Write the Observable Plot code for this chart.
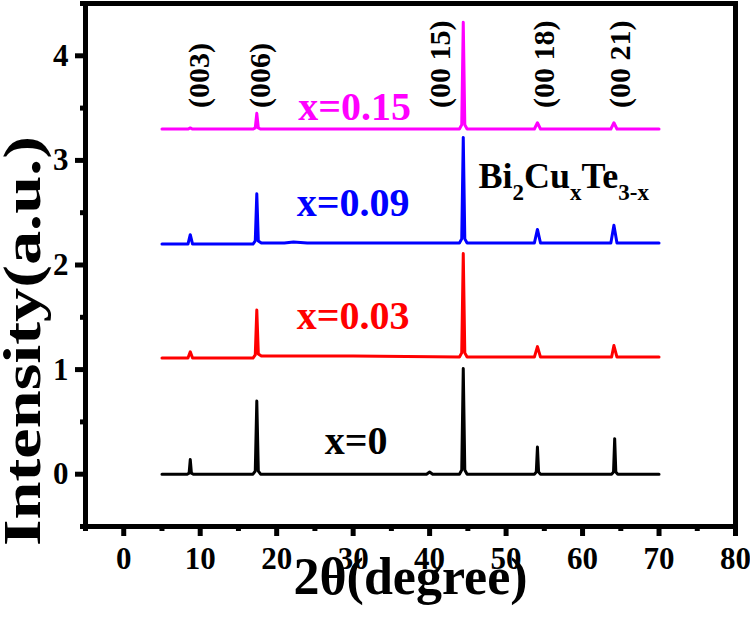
<!DOCTYPE html>
<html>
<head>
<meta charset="utf-8">
<script src="https://cdn.jsdelivr.net/npm/d3@7"></script>
<script src="https://cdn.jsdelivr.net/npm/@observablehq/plot@0.6"></script>
<style>
  html, body { margin: 0; padding: 0; background: #fff; }
</style>
</head>
<body>
<div id="chart"></div>
<script>
// ---- data (2θ in degrees, intensity in a.u., offset stacked) ----
const xEq0 = [
  [5,0],[8.3,0],[8.55,0.01],[8.7,0.14],[8.85,0.01],[9.1,0],
  [16.9,0],[17.2,0.03],[17.4,0.70],[17.6,0.03],[17.9,0],
  [39.6,0],[40.0,0.02],[40.4,0],
  [43.9,0],[44.2,0.04],[44.4,1.01],[44.6,0.04],[44.9,0],
  [53.7,0],[53.95,0.02],[54.1,0.26],[54.25,0.02],[54.5,0],
  [63.8,0],[64.05,0.02],[64.2,0.34],[64.35,0.02],[64.6,0],[70,0]
];
const xEq003 = [
  [5,1.11],[8.4,1.11],[8.7,1.17],[9.0,1.11],
  [16.9,1.11],[17.2,1.14],[17.4,1.57],[17.6,1.15],[18.0,1.13],[30,1.13],[43.9,1.12],
  [44.2,1.16],[44.4,2.11],[44.6,1.16],[44.9,1.12],
  [53.7,1.12],[54.1,1.22],[54.5,1.12],
  [63.8,1.12],[64.1,1.23],[64.5,1.12],[70,1.12]
];
const xEq009 = [
  [5,2.20],[8.4,2.20],[8.7,2.29],[9.0,2.20],
  [16.9,2.20],[17.2,2.23],[17.4,2.68],[17.6,2.23],[18.0,2.21],
  [21.0,2.21],[22.2,2.22],[24.0,2.21],[43.9,2.21],
  [44.2,2.25],[44.4,3.22],[44.6,2.25],[44.9,2.21],
  [53.7,2.21],[54.1,2.34],[54.5,2.21],
  [63.7,2.21],[64.1,2.38],[64.5,2.21],[70,2.21]
];
const xEq015 = [
  [5,3.30],[8.4,3.30],[8.7,3.31],[9.0,3.30],
  [16.9,3.30],[17.2,3.31],[17.4,3.45],[17.6,3.31],[17.9,3.30],
  [43.9,3.30],[44.2,3.34],[44.4,4.32],[44.6,3.34],[44.9,3.30],
  [53.7,3.30],[54.1,3.36],[54.5,3.30],
  [63.7,3.30],[64.1,3.36],[64.5,3.30],[70,3.30]
];
const seriesColors = ["#000000", "#ff0000", "#0000ff", "#ff00ff"];

const sampleLabels = ["x=0", "x=0.03", "x=0.09", "x=0.15"];
const sampleLabelX = [30.4, 30.0, 30.0, 30.2];
const sampleLabelY = [0.32, 1.51, 2.59, 3.51];

const hklLabels = ["(003)", "(006)", "(00 15)", "(00 18)", "(00 21)"];
const hklX = [9.9, 17.9, 41.4, 55.0, 64.9];
const hklY = 3.5;

const formulaText = "Bi2CuxTe3-x";
const formulaX = 46.4;
const formulaY = 2.85;

const xTicks = [0, 10, 20, 30, 40, 50, 60, 70, 80];
const xMinor = [-5, 5, 15, 25, 35, 45, 55, 65, 75];
const yTicks = [0, 1, 2, 3, 4];
const yMinor = [-0.5, 0.5, 1.5, 2.5, 3.5, 4.5];

const allSeries = [xEq0, xEq003, xEq009, xEq015];

const font = "'Liberation Serif', 'Times New Roman', serif";

const plot = Plot.plot({
  width: 750,
  height: 626,
  marginLeft: 85,
  marginRight: 15,
  marginTop: 3,
  marginBottom: 100,
  x: { domain: [-5, 80] },
  y: { domain: [-0.5, 4.5] },
  style: { fontFamily: font, fontWeight: "bold", background: "#fff", color: "#000" },
  marks: [
    ...allSeries.map((s, i) => Plot.line(s, {
      x: d => d[0], y: d => d[1], stroke: seriesColors[i], strokeWidth: 3, strokeLinejoin: "round"
    })),
    Plot.text(sampleLabels, {
      x: (d, i) => sampleLabelX[i], y: (d, i) => sampleLabelY[i], text: d => d,
      fill: (d, i) => seriesColors[i], fontSize: 40, fontWeight: "bold"
    }),
    Plot.text(hklLabels, {
      x: (d, i) => hklX[i], y: hklY, text: d => d, rotate: -90, textAnchor: "start",
      fill: "#000", fontSize: 30, fontWeight: "bold"
    }),
    Plot.text([formulaText], {
      x: formulaX, y: formulaY, text: d => d, textAnchor: "start",
      fill: "#000", fontSize: 36, fontWeight: "bold"
    }),
    Plot.frame({ stroke: "#000", strokeWidth: 5 }),
    Plot.axisX({ ticks: xTicks, tickSize: 10, tickPadding: 10, strokeWidth: 5, fontSize: 31, fontWeight: "bold", tickFormat: d => String(d), label: null }),
    Plot.axisX({ ticks: xMinor, tickSize: 5, tickFormat: () => "", strokeWidth: 5, label: null }),
    Plot.axisY({ ticks: yTicks, tickSize: 10, tickPadding: 7, strokeWidth: 5, fontSize: 31, fontWeight: "bold", tickFormat: d => String(d), label: null }),
    Plot.axisY({ ticks: yMinor, tickSize: 5, tickFormat: () => "", strokeWidth: 5, label: null }),
    Plot.text(["2θ(degree)"], {
      frameAnchor: "bottom", dy: 67, text: d => d, fontSize: 52, fontWeight: "bold", fill: "#000"
    }),
    Plot.text(["Intensity(a.u.)"], {
      frameAnchor: "left", dx: -62, dy: 281, rotate: -90, textAnchor: "start",
      text: d => d, fontSize: 52, fontWeight: "bold", fill: "#000"
    })
  ]
});

// subscripts in the formula label
d3.select(plot).selectAll("text").filter(function () { return this.textContent === formulaText; })
  .each(function () {
    const t = d3.select(this);
    t.text(null);
    const parts = [["Bi", false], ["2", true], ["Cu", false], ["x", true], ["Te", false], ["3-x", true]];
    let down = false;
    parts.forEach(([s, sub]) => {
      const ts = t.append("tspan").text(s);
      if (sub) { ts.attr("font-size", 23); if (!down) { ts.attr("dy", 12); down = true; } }
      else { if (down) { ts.attr("dy", -12); down = false; } }
    });
  });
// stretch the y title to the reference length
d3.select(plot).selectAll("text").filter(function () { return this.textContent === "Intensity(a.u.)"; })
  .attr("textLength", 410).attr("lengthAdjust", "spacingAndGlyphs");

document.getElementById("chart").appendChild(plot);
</script>
</body>
</html>
